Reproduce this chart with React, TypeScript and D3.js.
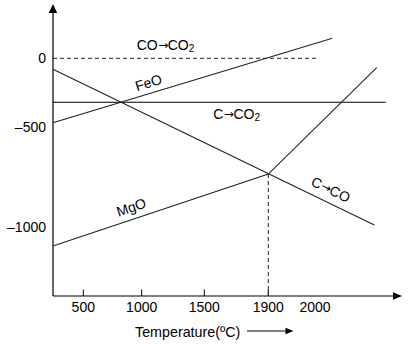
import React from "react";
import * as d3 from "d3";

// Temperature (°C) and ΔG values
const xTickValues = [500, 1000, 1500, 1900];
const xTickLabels = [500, 1000, 1500, 1900, 2000];
const yTickLabels = [0, -500, -1000];

const feoTemp = [240, 2102];
const feoG = [-467, 145];
const mgoTemp = [240, 1900, 2363];
const mgoG = [-1097, -735, -68];
const cToCoTemp = [240, 2349];
const cToCoG = [-80, -991];
const cToCo2Temp = [240, 2416];
const cToCo2G = [-318, -318];
const coToCo2Temp = [240, 2010];
const coToCo2G = [0, 0];
const dropTemp = [1900, 1900];
const dropG = [-735, -1350];

const W = 411;
const H = 346;
const FONT = "'Liberation Sans', Arial, sans-serif";
const ARROW_FONT = "'DejaVu Sans', sans-serif";

export default function App() {
  // schematic (non-uniform) axes → piecewise-linear scales
  const x = d3
    .scaleLinear()
    .domain([240, 500, 1000, 1500, 1900, 2000, 2500])
    .range([53, 83.3, 141.7, 204.3, 268.3, 315, 400]);
  const y = d3
    .scaleLinear()
    .domain([-1350, -1000, -500, 0, 400])
    .range([296, 226.7, 127.3, 58.3, 3]);

  const line = d3
    .line<[number, number]>()
    .x((d) => x(d[0]))
    .y((d) => y(d[1]));
  const pts = (t: number[], g: number[]) =>
    t.map((v, i) => [v, g[i]] as [number, number]);

  const x0 = x(240);
  const yAxis0 = y(-1350);

  // label along a segment: fraction f, perpendicular offset off (above the line)
  const along = (t: number[], g: number[], f: number, off: number) => {
    const ax = x(t[0]), ay = y(g[0]);
    const bx = x(t[t.length - 1]), by = y(g[g.length - 1]);
    const dx = bx - ax, dy = by - ay;
    const len = Math.hypot(dx, dy);
    const nx = dy / len, ny = -dx / len;
    const px = ax + dx * f + nx * off;
    const py = ay + dy * f + ny * off;
    const ang = (Math.atan2(dy, dx) * 180) / Math.PI;
    return { px, py, ang };
  };

  const feoLab = along(feoTemp, feoG, 0.353, 10.8);
  const mgoLab = along([mgoTemp[0], mgoTemp[1]], [mgoG[0], mgoG[1]], 0.381, 12);
  const ccoLab = along(cToCoTemp, cToCoG, 0.847, 13);

  const lineColor = "#222";

  const Arrow = () => (
    <tspan fontFamily={ARROW_FONT} fontSize={12} dx={0.5}>
      →
    </tspan>
  );

  return (
    <svg
      width={W}
      height={H}
      style={{ position: "absolute", left: 0, top: 0, background: "#fff" }}
      fontFamily={FONT}
    >
      {/* axes */}
      <line x1={x0} y1={yAxis0} x2={x0} y2={10} stroke="#000" strokeWidth={1.2} />
      <path d={`M${x0},4 L${x0 - 4.2},13 L${x0 + 4.2},13 Z`} fill="#000" />
      <line x1={x0} y1={yAxis0} x2={396} y2={yAxis0} stroke="#000" strokeWidth={1.2} />
      <path
        d={`M402,${yAxis0} L393,${yAxis0 - 3.8} L393,${yAxis0 + 3.8} Z`}
        fill="#000"
      />

      {/* x ticks */}
      {xTickValues.map((v) => (
        <line
          key={"t" + v}
          x1={x(v)}
          x2={x(v)}
          y1={yAxis0}
          y2={yAxis0 - 6.5}
          stroke="#000"
          strokeWidth={1}
        />
      ))}
      {xTickLabels.map((v) => (
        <text
          key={"l" + v}
          x={x(v)}
          y={yAxis0 + 11}
          fontSize={14}
          textAnchor="middle"
          dominantBaseline="central"
          fill="#000"
        >
          {v}
        </text>
      ))}

      {/* y labels */}
      {yTickLabels.map((v) => (
        <text
          key={"y" + v}
          x={46}
          y={y(v)}
          fontSize={14}
          textAnchor="end"
          dominantBaseline="central"
          fill="#000"
        >
          {v === 0 ? "0" : "\u2013" + Math.abs(v)}
        </text>
      ))}

      {/* x axis title */}
      <text x={135} y={331.5} fontSize={14.3} dominantBaseline="central" fill="#000">
        Temperature(ºC)
      </text>
      <line x1={247} y1={331} x2={287} y2={331} stroke="#000" strokeWidth={1.2} />
      <path d="M293.5,331 L285.5,327.8 L285.5,334.2 Z" fill="#000" />

      {/* dashed lines */}
      <path
        d={line(pts(coToCo2Temp, coToCo2G)) || ""}
        fill="none"
        stroke={lineColor}
        strokeWidth={1}
        strokeDasharray="4,3"
      />
      <path
        d={line(pts(dropTemp, dropG)) || ""}
        fill="none"
        stroke={lineColor}
        strokeWidth={1}
        strokeDasharray="4,3"
      />

      {/* solid lines */}
      <path d={line(pts(cToCo2Temp, cToCo2G)) || ""} fill="none" stroke="#000" strokeWidth={1.1} />
      <path d={line(pts(feoTemp, feoG)) || ""} fill="none" stroke={lineColor} strokeWidth={1.1} />
      <path d={line(pts(mgoTemp, mgoG)) || ""} fill="none" stroke={lineColor} strokeWidth={1.1} />
      <path d={line(pts(cToCoTemp, cToCoG)) || ""} fill="none" stroke={lineColor} strokeWidth={1.1} />

      {/* labels */}
      <text
        x={x(1190)}
        y={y(0) - 13}
        fontSize={14}
        textAnchor="middle"
        dominantBaseline="central"
        fill="#000"
      >
        CO<Arrow />
        <tspan dx={-0.5}>CO</tspan>
        <tspan fontSize={10} dy={3}>2</tspan>
      </text>
      <text
        x={x(1702)}
        y={y(-318) + 12}
        fontSize={14}
        textAnchor="middle"
        dominantBaseline="central"
        fill="#000"
      >
        C<Arrow />
        <tspan dx={-0.5}>CO</tspan>
        <tspan fontSize={10} dy={3}>2</tspan>
      </text>
      <text
        transform={`translate(${feoLab.px},${feoLab.py}) rotate(${feoLab.ang})`}
        fontSize={14}
        textAnchor="middle"
        dominantBaseline="central"
        fill="#000"
      >
        FeO
      </text>
      <text
        transform={`translate(${mgoLab.px},${mgoLab.py}) rotate(${mgoLab.ang})`}
        fontSize={14}
        textAnchor="middle"
        dominantBaseline="central"
        fill="#000"
      >
        MgO
      </text>
      <text
        transform={`translate(${ccoLab.px},${ccoLab.py}) rotate(${ccoLab.ang})`}
        fontSize={14}
        textAnchor="middle"
        dominantBaseline="central"
        fill="#000"
      >
        C<Arrow />
        <tspan dx={-0.5}>CO</tspan>
      </text>
    </svg>
  );
}
